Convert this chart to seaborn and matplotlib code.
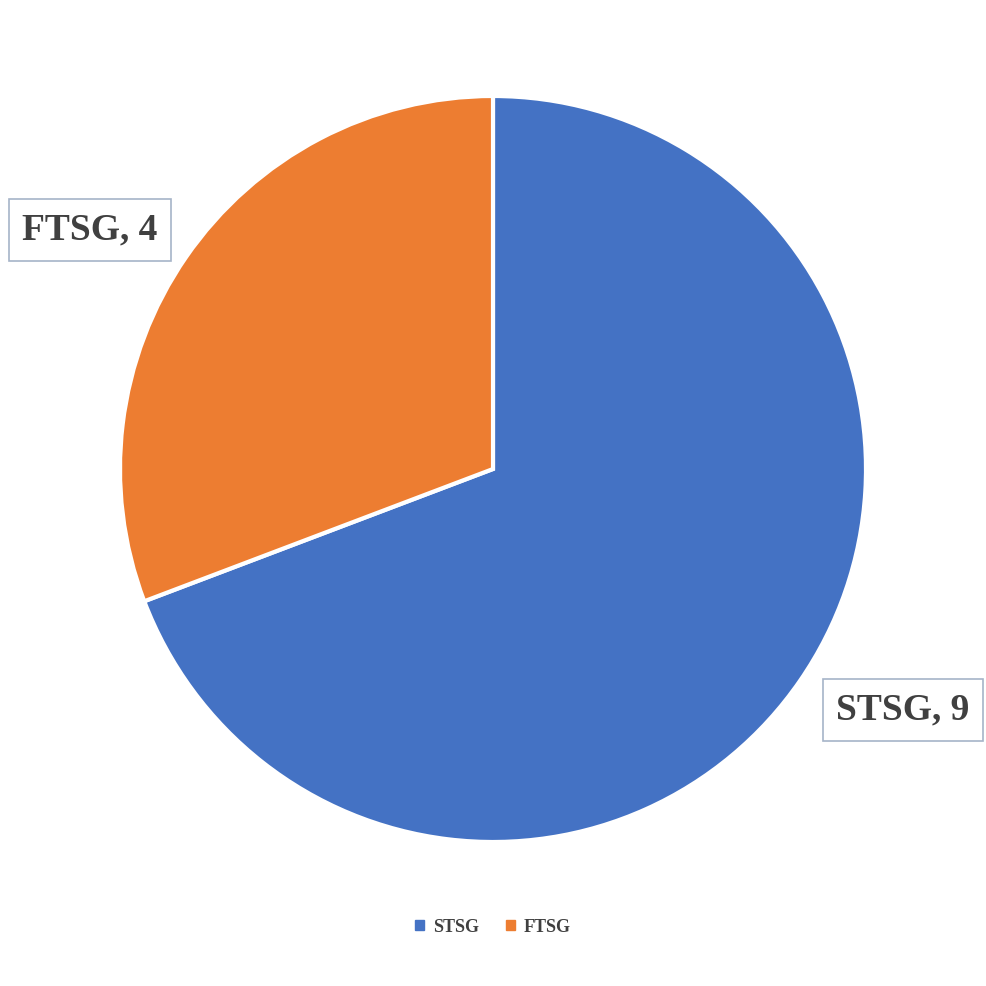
import matplotlib
matplotlib.use("Agg")
import matplotlib.pyplot as plt
import seaborn as sns
from matplotlib.patches import Rectangle

sns.set_theme(style="white")
plt.rcParams['font.family'] = ['Liberation Serif', 'DejaVu Serif']

categories = ["STSG", "FTSG"]
values = [9, 4]
colors = ["#4472C4", "#ED7D31"]

W = 986
fig = plt.figure(figsize=(9.86, 9.86), dpi=100)
cx, cy, r = 493, 469, 373
ax = fig.add_axes([(cx - r) / W, (W - cy - r) / W, 2 * r / W, 2 * r / W])
wedges, _ = ax.pie(values, colors=colors, startangle=90, counterclock=False,
                   wedgeprops=dict(edgecolor="white", linewidth=3))
ax.set_xlim(-1, 1); ax.set_ylim(-1, 1); ax.set_aspect("equal")
ax.axis("off")

# callout labels
bbox = dict(boxstyle="square,pad=0.35", fc="white", ec="#A6B4C8", lw=1.2)
fig.text(90 / W, 1 - 230 / W, f"{categories[1]}, {values[1]}", ha="center", va="center",
         fontsize=27, fontweight="bold", color="#404040", bbox=bbox)
fig.text(903 / W, 1 - 710 / W, f"{categories[0]}, {values[0]}", ha="center", va="center",
         fontsize=27, fontweight="bold", color="#404040", bbox=bbox)

# legend
handles = [Rectangle((0, 0), 1, 1, color=c) for c in colors]
fig.legend(handles, categories, loc="center", bbox_to_anchor=(493 / W, 1 - 927 / W),
           ncol=2, frameon=False, handlelength=0.5, handleheight=0.5,
           prop=dict(family="Liberation Serif", weight="bold", size=13),
           labelcolor="#404040", columnspacing=1.5, handletextpad=0.5)

fig.savefig("out.png", dpi=100, facecolor="white")
